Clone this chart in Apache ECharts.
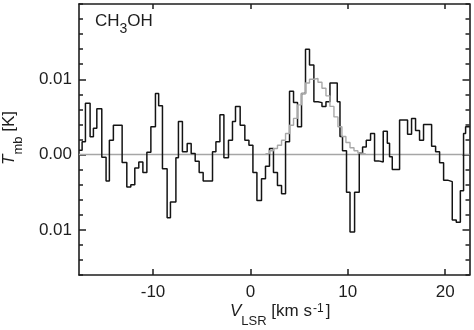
<!DOCTYPE html>
<html><head><meta charset="utf-8">
<script src="https://cdn.jsdelivr.net/npm/echarts@6/dist/echarts.min.js"></script>
<style>html,body{margin:0;padding:0;background:#fff}#c{width:474px;height:330px}</style>
</head><body><div id="c"></div>
<script>
// Observed spectrum: left channel edges (km/s) and T_mb (mK) of each step
const specEdges = [-17.59,-17.28,-16.94,-16.46,-16.12,-15.77,-15.26,-14.82,-14.48,-14.07,
  -13.17,-12.69,-12.28,-11.87,-11.46,-11.04,-10.63,-10.22,-9.75,-9.42,
  -9.03,-8.55,-8.21,-7.65,-7.39,-6.98,-6.49,-6.08,-5.67,-5.26,
  -4.85,-3.89,-3.54,-3.13,-2.72,-2.25,-1.84,-1.53,-1.05,-0.57,
  -0.15,0.26,0.67,1.14,1.55,1.96,2.37,2.78,3.20,3.61,
  4.02,4.43,4.84,5.25,5.66,6.07,6.52,6.94,7.35,7.76,
  8.17,8.92,9.20,9.46,9.87,10.23,10.70,11.18,11.52,11.90,
  12.34,12.75,13.16,13.64,14.06,14.29,14.57,15.32,16.14,16.55,
  16.96,17.37,17.78,18.61,19.02,19.43,19.84,20.25,20.73,21.14,
  21.56,21.89,22.10];
const specTmb = [0.57,1.7,6.8,2.35,3.5,6.1,-0.35,-3.5,1.9,3.9,
  -1.07,-4.3,-4.0,-1.8,-1.0,-2.4,0.3,3.7,8.1,6.5,
  -1.87,-8.4,-6.3,-0.44,4.4,0.36,1.47,0.13,-0.9,-2.4,
  -3.5,0.36,1.7,5.3,-0.44,1.9,4.4,6.4,3.9,1.9,
  1.24,-2.4,-6.1,-3.2,-1.56,0.8,-2.4,-4.1,-5.2,1.7,
  8.4,6.9,3.7,8.1,14.0,11.9,7.0,6.9,6.4,7.0,
  9.5,7.0,2.4,0.5,-5.0,-10.3,-5.0,0.2,1.0,1.9,
  2.8,-0.84,-1.0,3.1,1.5,-0.3,-2.0,4.6,2.7,4.8,
  3.2,1.9,4.0,1.1,0.36,-1.1,-3.4,-3.6,-8.7,-9.0,
  -4.8,2.8,3.7];
const specEnd = 22.53;

// Gaussian fit (grey): left channel edges (km/s) and T_mb (mK)
const fitEdges = [1.55,1.96,2.37,2.78,3.20,3.61,4.02,4.43,4.84,5.25,
  5.66,6.07,6.52,6.94,7.35,7.76,8.17,8.58,8.99,9.40,
  9.81,10.23,10.64,11.04,11.45];
const fitTmb = [0.13,0.5,0.8,1.24,1.9,2.8,3.9,4.8,6.6,8.1,
  9.5,10.0,10.1,9.6,8.8,7.8,6.4,5.0,3.7,2.4,
  1.6,0.9,0.5,0.2,0.05];
const fitEnd = 11.86;

const xTickValues = [-10, 0, 10, 20];
const yLabelValues = [-0.01, 0, 0.01];

function stepData(edges, vals, end) {
  const d = edges.map((x, i) => [x, vals[i] / 1000]);
  d.push([end, vals[vals.length - 1] / 1000]);
  return d;
}

const FONT = 'Liberation Sans, Arial, sans-serif';
const TXT = '#1e1e1e';
const AX = '#1e1e1e';

const baseX = {
  type: 'value', min: -17.6, max: 22.5,
  splitLine: { show: false },
  axisLine: { show: true, onZero: false, lineStyle: { color: AX, width: 1.6 } }
};
const baseY = {
  type: 'value', min: -0.016, max: 0.02, interval: 0.002,
  splitLine: { show: false },
  axisLine: { show: true, onZero: false, lineStyle: { color: AX, width: 1.6 } }
};

const chart = echarts.init(document.getElementById('c'), null, { renderer: 'canvas' });
chart.setOption({
  animation: false,
  backgroundColor: '#fff',
  grid: { left: 79, right: 4.5, top: 4, bottom: 55, outerBoundsMode: 'none' },
  xAxis: [
    Object.assign({}, baseX, {
      position: 'bottom',
      axisTick: { inside: true, length: 6, customValues: xTickValues, lineStyle: { color: AX, width: 1.5 } },
      axisLabel: { customValues: xTickValues, fontSize: 17, fontFamily: FONT, color: TXT, margin: 9 }
    }),
    Object.assign({}, baseX, {
      position: 'top',
      axisTick: { inside: true, length: 5, customValues: xTickValues, lineStyle: { color: AX, width: 1.5 } },
      axisLabel: { show: false }
    })
  ],
  yAxis: [
    Object.assign({}, baseY, {
      position: 'left',
      axisTick: { inside: true, length: 4, lineStyle: { color: AX, width: 1.5 } },
      axisLabel: { customValues: yLabelValues, fontSize: 17, fontFamily: FONT, color: TXT, margin: 7,
        formatter: v => Math.abs(v).toFixed(2) }
    }),
    Object.assign({}, baseY, {
      position: 'right',
      axisTick: { inside: true, length: 4, lineStyle: { color: AX, width: 1.5 } },
      axisLabel: { show: false }
    }),
    Object.assign({}, baseY, {
      position: 'left',
      axisLine: { show: false, onZero: false },
      axisTick: { inside: true, length: 7, customValues: yLabelValues, lineStyle: { color: AX, width: 1.5 } },
      axisLabel: { show: false }
    }),
    Object.assign({}, baseY, {
      position: 'right',
      axisLine: { show: false, onZero: false },
      axisTick: { inside: true, length: 7, customValues: yLabelValues, lineStyle: { color: AX, width: 1.5 } },
      axisLabel: { show: false }
    })
  ],
  series: [
    {
      type: 'line', step: 'end', xAxisIndex: 0, yAxisIndex: 0,
      data: stepData(specEdges, specTmb, specEnd),
      showSymbol: false, symbol: 'none', clip: true, z: 3,
      lineStyle: { color: '#141414', width: 1.5 },
      markLine: {
        silent: true, symbol: 'none', label: { show: false },
        lineStyle: { color: '#a6a6a6', width: 1.3, type: 'solid' },
        data: [{ yAxis: 0 }], z: 1
      }
    },
    {
      type: 'line', step: 'end', xAxisIndex: 0, yAxisIndex: 0,
      data: stepData(fitEdges, fitTmb, fitEnd),
      showSymbol: false, symbol: 'none', clip: true, z: 4,
      lineStyle: { color: '#a8a8a8', width: 1.4 }
    }
  ],
  graphic: [
    {
      type: 'text', x: 95, y: 13, z: 10,
      style: {
        text: '{a|CH}{s|3}{a|OH}',
        fill: TXT,
        rich: {
          a: { fontSize: 17, fontFamily: FONT, fill: TXT, lineHeight: 23, verticalAlign: 'top' },
          s: { fontSize: 14, fontFamily: FONT, fill: TXT, lineHeight: 14, verticalAlign: 'bottom' }
        }
      }
    },
    {
      type: 'text', x: 230, y: 303, z: 10,
      style: {
        text: '{i|V}{s|LSR}{a| [km s}{p|-1}{a|]}',
        fill: TXT,
        rich: {
          i: { fontSize: 17, fontFamily: FONT, fontStyle: 'italic', fill: TXT, lineHeight: 25, verticalAlign: 'top' },
          a: { fontSize: 17, fontFamily: FONT, fill: TXT, lineHeight: 25, verticalAlign: 'top' },
          s: { fontSize: 13, fontFamily: FONT, fill: TXT, lineHeight: 13, verticalAlign: 'bottom' },
          p: { fontSize: 12, fontFamily: FONT, fill: TXT, lineHeight: 12, verticalAlign: 'top', padding: [0, 2, 0, 1] }
        }
      }
    },
    {
      type: 'text', x: 13, y: 138, rotation: Math.PI / 2, z: 10,
      style: {
        text: '{i|T}{s|mb}{a| [K]}',
        fill: TXT,
        align: 'center', verticalAlign: 'middle',
        rich: {
          i: { fontSize: 17, fontFamily: FONT, fontStyle: 'italic', fill: TXT, lineHeight: 24, verticalAlign: 'top' },
          a: { fontSize: 17, fontFamily: FONT, fill: TXT, lineHeight: 24, verticalAlign: 'top' },
          s: { fontSize: 13, fontFamily: FONT, fill: TXT, lineHeight: 13, verticalAlign: 'bottom' }
        }
      }
    }
  ]
});
</script>
</body></html>
